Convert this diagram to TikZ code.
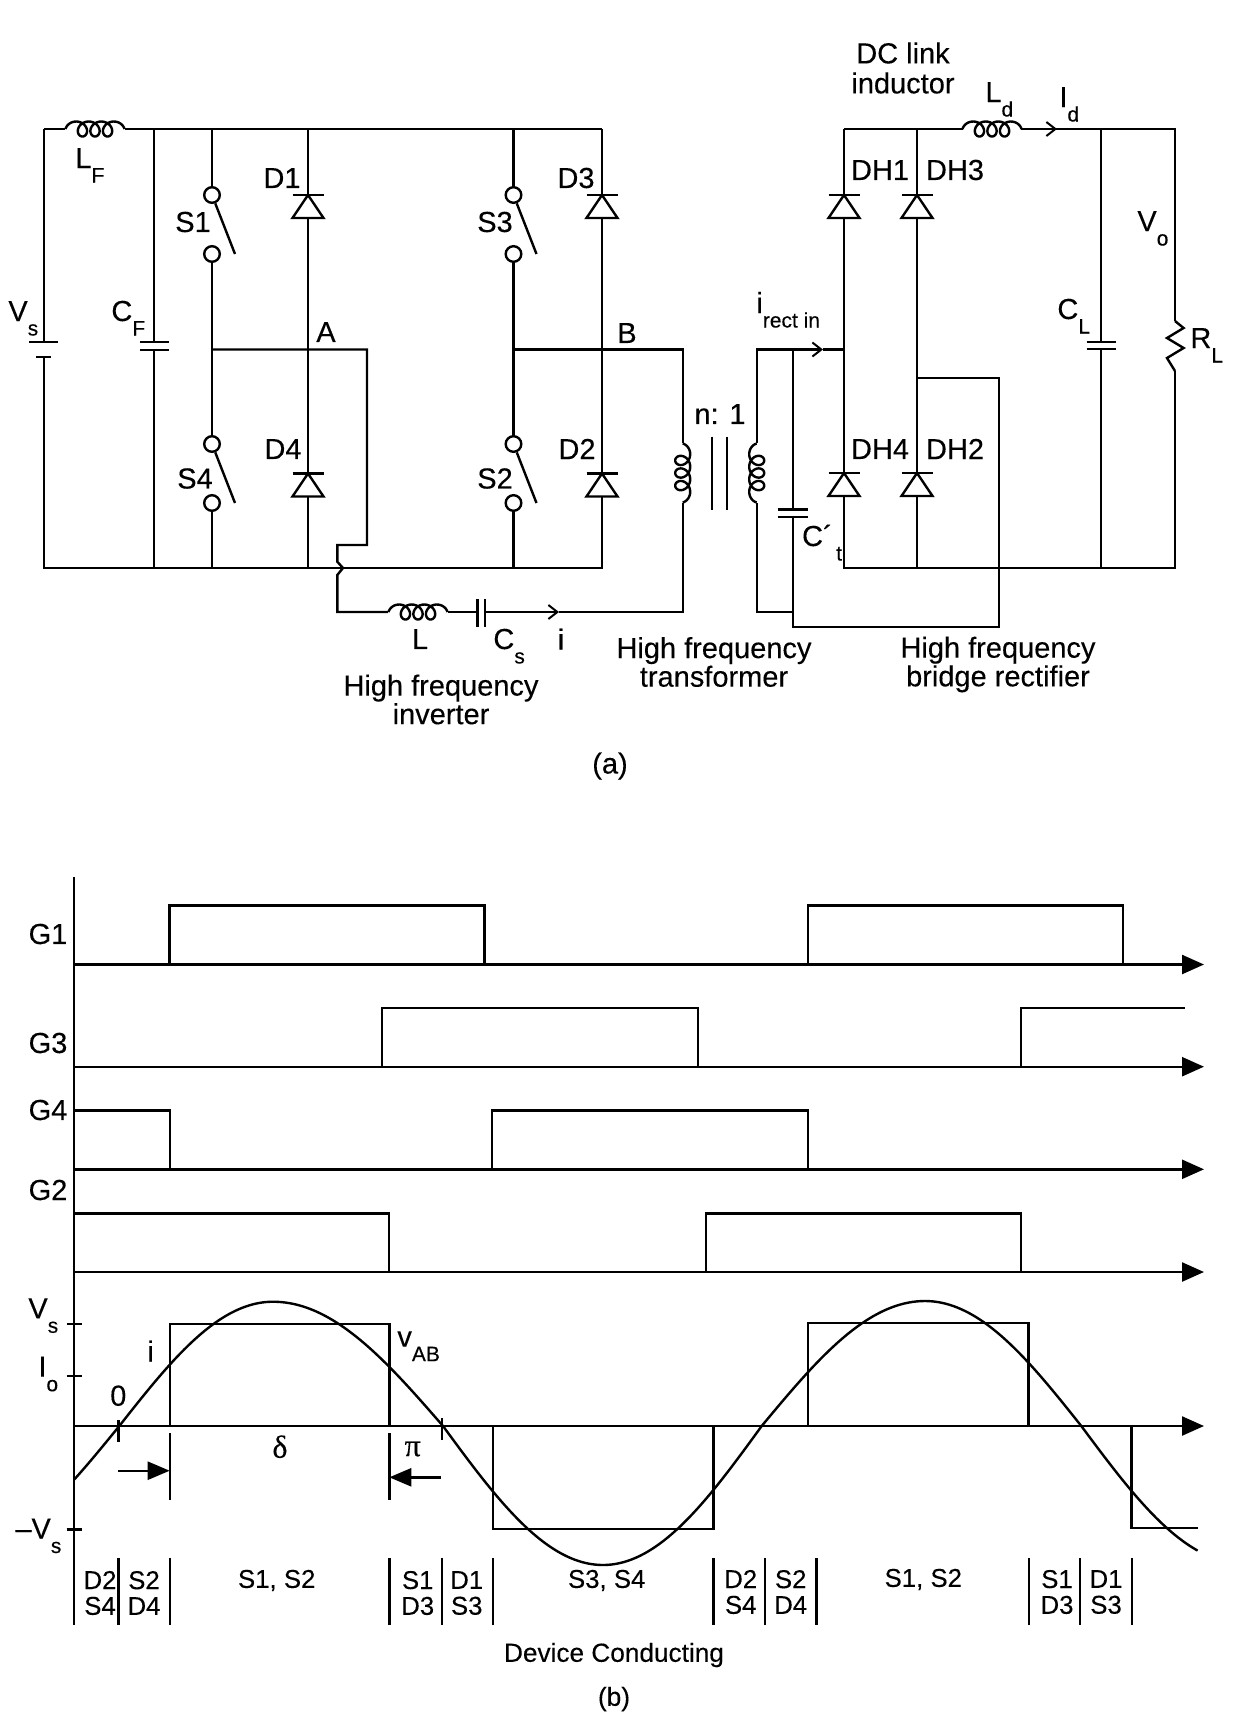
\documentclass[tikz,border=0pt]{standalone}
\usepackage{fontspec}
\setmainfont{Liberation Sans}[FakeBold=0.2]
\newfontfamily\grkfont{Liberation Serif}[FakeBold=0.2]
\usetikzlibrary{arrows.meta}
\newcommand{\subs}[1]{\raisebox{-0.5em}{\fontsize{10.5}{11}\selectfont #1}}
\tikzset{
  wire/.style={line width=1.2pt,line join=miter,line cap=butt},
  axis/.style={wire,-{Triangle[length=11pt,width=9.5pt]}},
  barb/.style={wire,-{Straight Barb[length=4.5pt,width=7pt,line width=1pt]}},
  solid tip/.style={wire,-{Triangle[length=11pt,width=9pt]}},
  term/.style={circle,draw,line width=1.2pt,fill=white,inner sep=0pt,minimum size=7.8pt},
  lab/.style={inner sep=0pt,font=\fontsize{14.5}{14.3}\selectfont,align=center},
  base/.style={lab,anchor=base west},
  tab/.style={inner sep=0pt,font=\fontsize{12.9}{12.9}\selectfont,align=center},
  diode/.pic={
    \fill[white] (0,0)--(15.5,23)--(-15.5,23)--cycle;
    \draw[wire] (-15.5,0)--(15.5,0);
    \draw[wire] (0,0)--(15.5,23)--(-15.5,23)--cycle;
  },
  coil/.pic={
    \draw[wire,domain=-90:1170,samples=110,smooth,variable=\t]
      plot ({2.0*rad(\t)+7.5*sin(\t)-2.0*3*pi},{-7.5*cos(\t)});
  },
}
\begin{document}
\begin{tikzpicture}[x=0.5pt,y=-0.5pt]
\useasboundingbox (0,0) rectangle (1249,1731);
\fill[white] (0,0) rectangle (1249,1731);

%% ---------- junction coordinates, part (a)
\foreach \n/\x/\y in {tl/44/129,lfa/65/129,lfb/124.5/129,cft/154/129,s1t/212/129,d1t/308/129,s3t/513.5/129,tr/602/129,
  bl/44/568,cfb/154/568,s4b/212/568,d4b/308/568,s2b/513.5/568,br/602/568,
  vsa/44/342,vsb/44/357,vsal/29/342,vsar/58/342,vsbl/36/357,vsbr/51/357,
  cfa/154/342,cfc/154/350,cfal/140/342,cfar/168.5/342,cfcl/140/350,cfcr/168.5/350,
  ja/212/349.5,a/308/349.5,ae/367/349.5,ad/367/545,hl/337.3/545,hs/337.3/561.7,hm/343/568,he/337.3/575,lc/337.3/612,
  la/388/612,lb/448/612,csa/477.5/612,csb/485/612,csat/477.5/599,csab/477.5/627,csbt/485/599,csbb/485/627,ia/559/612,
  jb/513.5/349.5,b/602/349.5,pt/682.7/349.5,pa/682.7/443,pb/682.7/503,pe/682.7/612,
  ca/712/436.7,cb/712/510,cc/727/436.7,cd/727/510,
  st/756.7/349.5,sa/756.7/443,sb/756.7/503,se/756.7/612,ctt/793/349.5,ctb/793/612,
  cta/793/509.3,ctc/793/516.7,ctal/777.7/509.3,ctar/807.7/509.3,ctcl/777.7/516.7,ctcr/807.7/516.7,ctd/793/627,
  ctr/999/627,ctu/999/378,dhj/917/378,irect/823/349.5,dh1j/844/349.5,
  dh1t/844/129,dh3t/917/129,lda/963/129,ldb/1021/129,idc/1057/129,clt/1101/129,rt/1175/129,
  dh4b/844/568,dh2b/917/568,clb/1101/568,rb/1175/568,
  cla/1101/342,clc/1101/349,clal/1086.5/342,clar/1116/342,clcl/1086.5/349,clcr/1116/349,
  ra/1175/321,rz/1175/371}
  {\coordinate (\n) at (\x,\y);}

%% ---------- part (a): wires
\draw[wire] (tl)--(lfa) (lfb)--(tr);
\draw[wire] (tl)--(vsa) (vsb)--(bl)--(br)--(tr);
\draw[wire] (vsal)--(vsar) (vsbl)--(vsbr);
\draw[wire] (cft)--(cfa) (cfc)--(cfb) (cfal)--(cfar) (cfcl)--(cfcr);
\pic at (95,129) {coil};

%% switches
\foreach \n/\x/\ya/\yb in {1/212/195/254,4/212/444/503,3/513.5/195/254,2/513.5/444/503}{
  \node[term] (s\n a) at (\x,\ya) {};
  \node[term] (s\n b) at (\x,\yb) {};
  \coordinate (s\n e) at ({\x+23},{\yb});
  \draw[wire] (s\n a)--(s\n e);
}
\draw[wire] (s1t)--(s1a) (s1b)--(s4a) (s4b)--(s4b |- bl);
\draw[wire] (s3t)--(s3a) (s3b)--(s2a) (s2b)--(s2b |- bl);

%% inverter leg diodes
\draw[wire] (d1t)--(d4b);
\pic at (308,195) {diode};
\pic at (308,473.5) {diode};
\pic at (602,195) {diode};
\pic at (602,473.5) {diode};

%% bridge mid points and load branch
\draw[wire] (ja)--(ae)--(ad)--(hl)--(hs)--(hm)--(he)--(lc)--(la);
\pic at (418,612) {coil};
\draw[wire] (lb)--(csa) (csat)--(csab) (csbt)--(csbb);
\draw[barb] (csb)--(ia);
\draw[wire] (ia)--(pe)--(pb) (pa)--(pt)--(jb);
\pic[rotate=-90] at (682.7,473) {coil};

%% transformer
\draw[wire] (ca)--(cb) (cc)--(cd);
\pic[rotate=90] at (756.7,473) {coil};
\draw[wire] (sa)--(st)--(ctt);
\draw[barb] (ctt)--(irect);
\draw[wire] (irect)--(dh1j);
\draw[wire] (sb)--(se)--(ctb);
\draw[wire] (ctt)--(cta) (ctc)--(ctd)--(ctr)--(ctu)--(dhj);
\draw[wire] (ctal)--(ctar) (ctcl)--(ctcr);

%% rectifier
\draw[wire] (dh1t)--(lda) (ldb)--(rt)--(ra);
\pic at (992,129) {coil};
\draw[barb] (ldb)--(idc);
\draw[wire] (dh1t)--(dh4b)--(rb)--(rz);
\draw[wire] (dh3t)--(dh2b);
\draw[wire] (clt)--(cla) (clc)--(clb) (clal)--(clar) (clcl)--(clcr);
\draw[wire] (ra)--(1183.6,328)--(1167,338)--(1183.6,348)--(1167,358)--(rz);
\pic at (844,195) {diode};
\pic at (917,195) {diode};
\pic at (844,473) {diode};
\pic at (917,473) {diode};

%% ---------- part (a): labels
\node[base] (tVs) at (8,321) {V\subs{s}};
\node[base] (tLF) at (75,168) {L\subs{F}};
\node[base] (tCF) at (111,321) {C\subs{F}};
\node[lab] (tS1) at (193,222) {S1};
\node[lab] (tS4) at (195,478.5) {S4};
\node[lab] (tS3) at (495,222) {S3};
\node[lab] (tS2) at (495,478.5) {S2};
\node[lab] (tD1) at (282,178) {D1};
\node[lab] (tD4) at (283,449) {D4};
\node[lab] (tD3) at (576,178) {D3};
\node[lab] (tD2) at (577,449) {D2};
\node[lab] (tA) at (326,332) {A};
\node[lab] (tB) at (627,333) {B};
\node[lab] (tL) at (420,639) {L};
\node[base] (tCs) at (493,649) {C\subs{s}};
\node[lab] (ti) at (561,639) {i};
\node[lab] (tinv) at (441,699.5) {High frequency\\inverter};
\node[lab] (txf) at (714,662) {High frequency\\transformer};
\node[lab] (trec) at (998,664.5) {High frequency\\bridge rectifier};
\node[lab,font=\fontsize{14.5}{15}\selectfont] (tdc) at (903,68) {DC link\\inductor};
\node[lab] (tn) at (720,414) {n: 1};
\node[base] (trect) at (756,313) {i\subs{rect in}};
\node[base] (tct) at (801.7,546) {C\textasciiacute\subs{\,t}};
\node[lab] (tDH1) at (880,170) {DH1};
\node[lab] (tDH3) at (955,170) {DH3};
\node[lab] (tDH4) at (880,449) {DH4};
\node[lab] (tDH2) at (955,449) {DH2};
\node[base] (tLd) at (985,102) {L\subs{d}};
\node[base] (tId) at (1059,107) {I\subs{d}};
\node[base] (tVo) at (1137,231) {V\subs{o}};
\node[base] (tCL) at (1057,319) {C\subs{L}};
\node[base] (tRL) at (1190,348) {R\subs{L}};
\node[lab] (ta) at (610,766) {(a)};

%% ---------- part (b): axes
\foreach \n/\y in {1/964.5,3/1066.7,4/1169.3,2/1272,m/1426}{
  \coordinate (ax\n) at (74,\y);
  \coordinate (tip\n) at (1204,\y);
  \draw[axis] (ax\n)--(tip\n);
}
\coordinate (axt) at (74,877);
\coordinate (axb) at (74,1624.5);
\draw[wire] (axt)--(axb);

%% gate waveforms
\draw[wire] (169.3,964.5)|-(484.3,905.5)--(484.3,964.5);
\draw[wire] (808,964.5)|-(1123,905.5)--(1123,964.5);
\draw[wire] (381.7,1066.7)|-(698,1008)--(698,1066.7);
\draw[wire] (1021,1066.7)|-(1185,1008);
\draw[wire] (74,1110.5)-|(170,1169.3);
\draw[wire] (492,1169.3)|-(808,1110.5)--(808,1169.3);
\draw[wire] (74,1213.5)-|(389,1272);
\draw[wire] (705.8,1272)|-(1021,1213.5)--(1021,1272);

\node[lab] (tG1) at (48,934) {G1};
\node[lab] (tG3) at (48,1043) {G3};
\node[lab] (tG4) at (48,1110) {G4};
\node[lab] (tG2) at (48,1190) {G2};

%% vAB
\draw[wire] (169.7,1426)|-(389.3,1324)--(389.3,1426);
\draw[wire] (492.7,1426)|-(713.3,1529)--(713.3,1426);
\draw[wire] (808,1426)|-(1028.3,1323)--(1028.3,1426);
\draw[wire] (1131.4,1426)|-(1197.6,1528);

%% current i
\draw[wire,smooth,variable=\x,samples=24,domain=74:119.3] plot (\x,{1426+125*sin((119.3-\x)/160*90)});
\draw[wire,smooth,variable=\x,samples=40,domain=119.3:273] plot (\x,{1426-124.3*sin((\x-119.3)/153.7*90)});
\draw[wire,smooth,variable=\x,samples=40,domain=273:443] plot (\x,{1426-124.3*sin((443-\x)/170*90)});
\draw[wire,smooth,variable=\x,samples=40,domain=443:603] plot (\x,{1426+139*sin((\x-443)/160*90)});
\draw[wire,smooth,variable=\x,samples=40,domain=603:761.7] plot (\x,{1426+139*sin((761.7-\x)/158.7*90)});
\draw[wire,smooth,variable=\x,samples=40,domain=761.7:925] plot (\x,{1426-125*sin((\x-761.7)/163.3*90)});
\draw[wire,smooth,variable=\x,samples=40,domain=925:1081.3] plot (\x,{1426-125*sin((1081.3-\x)/156.3*90)});
\draw[wire,smooth,variable=\x,samples=24,domain=1081.3:1197.6] plot (\x,{1426+137*sin((\x-1081.3)/160*90)});

%% ticks
\foreach \n/\y in {a/1324,b/1375.7,c/1529.3}{
  \coordinate (tk\n l) at (66.7,\y);
  \coordinate (tk\n r) at (81.7,\y);
  \draw[wire] (tk\n l)--(tk\n r);
}
\draw[wire] (118.3,1420)--(118.3,1441.7);
\draw[wire] (441.7,1418)--(441.7,1440);

%% delta markers
\coordinate (dla) at (169.7,1433.3); \coordinate (dlb) at (169.7,1500);
\coordinate (dra) at (389.3,1433.3); \coordinate (drb) at (389.3,1500);
\coordinate (alf) at (118.3,1470.7); \coordinate (alt) at (169.7,1470.7);
\coordinate (arf) at (441,1477.3);   \coordinate (art) at (389.3,1477.3);
\draw[wire] (dla)--(dlb) (dra)--(drb);
\draw[solid tip] (alf)--(alt);
\draw[solid tip] (arf)--(art);

%% table dividers
\foreach \x in {118.3,169.7,389.3,441.7,492.7,713.3,765,816.3,1029,1080,1132}{
  \draw[wire] (\x,1558)--(\x,1624.5);
}

%% ---------- part (b): labels
\node[base] (tbVs) at (28,1318.3) {V\subs{s}};
\node[base] (tbIo) at (38,1376.7) {I\subs{o}};
\node[lab] (tb0) at (118.3,1395.7) {0};
\node[lab] (tbi) at (150.7,1351) {i};
\node[base] (tbv) at (397,1346.7) {v\subs{AB}};
\node[lab,font=\grkfont\fontsize{16}{16}\selectfont] (tbd) at (280,1446.7) {δ};
\node[lab,font=\grkfont\fontsize{16}{16}\selectfont] (tbp) at (412.7,1449) {π};
\node[base] (tbnV) at (15,1538.5) {–V\subs{s}};

\node[tab] (c1) at (100,1593) {D2\\S4};
\node[tab] (c2) at (144,1593) {S2\\D4};
\node[tab] (c3) at (276.7,1580.5) {S1, S2};
\node[tab] (c4) at (417.7,1593) {S1\\D3};
\node[tab] (c5) at (466.7,1593) {D1\\S3};
\node[tab] (c6) at (606.7,1580.5) {S3, S4};
\node[tab] (c7) at (740.7,1592) {D2\\S4};
\node[tab] (c8) at (790.7,1592) {S2\\D4};
\node[tab] (c9) at (923.3,1579.5) {S1, S2};
\node[tab] (c10) at (1057,1592) {S1\\D3};
\node[tab] (c11) at (1106,1592) {D1\\S3};
\node[tab,font=\fontsize{13.1}{14}\selectfont] (tdev) at (614,1655) {Device Conducting};
\node[tab,font=\fontsize{13.1}{14}\selectfont] (tb) at (614,1699) {(b)};
\end{tikzpicture}
\end{document}
